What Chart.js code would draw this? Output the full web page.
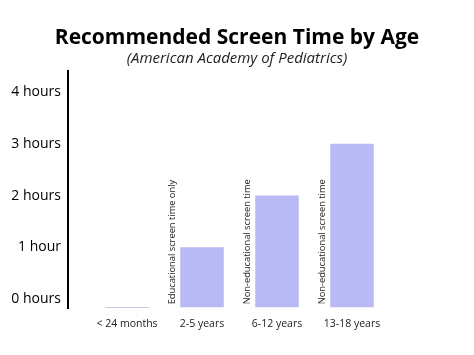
<!DOCTYPE html>
<html>
<head>
<meta charset="utf-8">
<script src="https://cdn.jsdelivr.net/npm/chart.js@4"></script>
<style>
  html, body { margin: 0; padding: 0; background: #fff; }
  #wrap { width: 474px; height: 355px; }
</style>
</head>
<body>
<div id="wrap"><canvas id="chart"></canvas></div>
<script>
  // Data
  const ageGroups = ["< 24 months", "2-5 years", "6-12 years", "13-18 years"];
  const hours = [0, 1, 2, 3];
  const barNotes = ["", "Educational screen time only", "Non-educational screen time", "Non-educational screen time"];
  const yTickValues = [0, 1, 2, 3, 4];
  const yTickLabels = ["0 hours", "1 hour", "2 hours", "3 hours", "4 hours"];

  // bars in the picture hang a little below the "0 hours" label
  const BASE = -0.16;
  const barColors = ["#b6b6dc", "#b8b9f5", "#b8b9f5", "#b8b9f5"];

  // rotated notes beside the bars
  const notesPlugin = {
    id: "barNotes",
    afterDatasetsDraw: function (chart) {
      const ctx = chart.ctx;
      const meta = chart.getDatasetMeta(0);
      const yScale = chart.scales.y;
      ctx.save();
      ctx.font = "9.3px 'Open Sans'";
      ctx.fillStyle = "#222";
      ctx.textAlign = "left";
      ctx.textBaseline = "middle";
      meta.data.forEach(function (bar, i) {
        if (!barNotes[i]) return;
        const x = bar.x - bar.width / 2 - 8;
        const y = yScale.getPixelForValue(BASE) - 3;
        ctx.save();
        ctx.translate(x, y);
        ctx.rotate(-Math.PI / 2);
        ctx.fillText(barNotes[i], 0, 0);
        ctx.restore();
      });
      ctx.restore();
    },
  };

  new Chart(document.getElementById("chart"), {
    type: "bar",
    data: {
      datasets: [
        {
          data: hours.map(function (h, i) {
            return { x: i, y: h === 0 ? [BASE, BASE] : [BASE, h] };
          }),
          backgroundColor: barColors,
          borderWidth: 0,
          barPercentage: 0.58,
          categoryPercentage: 1,
          minBarLength: 2,
        },
      ],
    },
    options: {
      responsive: true,
      maintainAspectRatio: false,
      animation: false,
      layout: { padding: 0 },
      plugins: {
        legend: { display: false },
        tooltip: { enabled: false },
        title: {
          display: true,
          text: "Recommended Screen Time by Age",
          color: "#000",
          font: { family: "Open Sans", size: 21, weight: "bold" },
          padding: { top: 25, bottom: 0 },
        },
        subtitle: {
          display: true,
          text: "(American Academy of Pediatrics)",
          color: "#222",
          font: { family: "Open Sans", size: 15, style: "italic" },
          padding: { top: 0, bottom: 3 },
        },
      },
      scales: {
        x: {
          type: "linear",
          offset: false,
          min: -0.787,
          max: 4.627,
          grid: { display: false, drawTicks: false, offset: false },
          border: { display: false },
          afterBuildTicks: function (scale) {
            scale.ticks = ageGroups.map(function (_, i) { return { value: i }; });
          },
          afterFit: function (scale) {
            scale.height = 47;
          },
          ticks: {
            padding: 10,
            color: "#222",
            font: { family: "Open Sans", size: 10.5 },
            maxRotation: 0,
            autoSkip: false,
            callback: function (v) { return ageGroups[v]; },
          },
        },
        y: {
          min: -0.173,
          max: 4.404,
          grid: { display: false, drawTicks: false },
          border: { display: true, color: "#000", width: 2 },
          afterBuildTicks: function (scale) {
            scale.ticks = yTickValues.map(function (v) { return { value: v }; });
          },
          afterFit: function (scale) {
            scale.width = 68;
          },
          ticks: {
            padding: 7,
            color: "#000",
            font: { family: "Open Sans", size: 14 },
            callback: function (v) { return yTickLabels[yTickValues.indexOf(v)]; },
          },
        },
      },
    },
    plugins: [notesPlugin],
  });
</script>
</body>
</html>
